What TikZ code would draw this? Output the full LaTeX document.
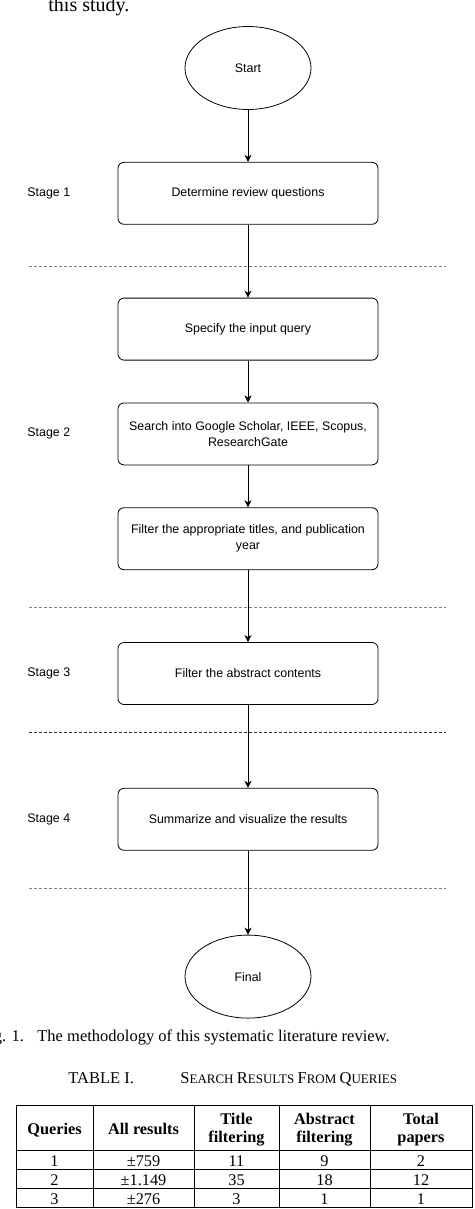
\documentclass[tikz,border=0pt]{standalone}
\usepackage{fontspec}
\setmainfont{Liberation Serif}
\setsansfont{Liberation Sans}
\colorlet{colorSep}{black!50}
\colorlet{colorSepDark}{black!85}
\usetikzlibrary{arrows.meta, positioning, shapes.geometric}
\tikzset{
  flowfont/.style={font=\sffamily\fontsize{12.4}{16}\selectfont},
  terminal/.style={draw, ellipse, flowfont, minimum width=126pt, minimum height=83pt},
  stagebox/.style={draw, rounded corners=6pt, flowfont, align=center, minimum width=260pt, minimum height=62pt},
  stagelabel/.style={flowfont, inner sep=0pt},
  sep/.style={dash pattern=on 3pt off 2pt, line width=0.7pt},
  tabcell/.style={font=\fontsize{16.3}{18}\selectfont, inner sep=0pt, text height=11pt, text depth=0pt},
  tabhead/.style={font=\bfseries\fontsize{16.3}{18}\selectfont, inner sep=0pt, align=center},
}

\begin{document}
\begin{tikzpicture}[>={Stealth[length=7pt, width=7pt, inset=2pt]}, thick, x=1pt, y=-1pt, node distance=42pt]
\useasboundingbox (0,0) rectangle (474,1209);
% text above the figure
\node[anchor=base west, inner sep=0pt, font=\fontsize{20}{24}\selectfont] (body) at (48,11.5) {this study.};
% flow chart
\node[terminal] (start) at (248,68) {Start};
\node[stagebox, below=52pt of start] (q1) {Determine review questions};
\node[stagebox, below=73pt of q1] (q2) {Specify the input query};
\node[stagebox, below=42pt of q2] (q3) {Search into Google Scholar, IEEE, Scopus,\\ResearchGate};
\node[stagebox, below=42pt of q3] (q4) {Filter the appropriate titles, and publication\\year};
\node[stagebox, below=72pt of q4] (q5) {Filter the abstract contents};
\node[stagebox, below=83pt of q5] (q6) {Summarize and visualize the results};
\node[terminal, below=84pt of q6] (final) {Final};
\node[stagelabel, left=47pt of q1] (s1) {Stage 1};
\node[stagelabel, left=47pt of q3] (s2) {Stage 2};
\node[stagelabel, left=47pt of q5] (s3) {Stage 3};
\node[stagelabel, left=47pt of q6] (s4) {Stage 4};
\draw[sep, colorSep] (29,266) -- (446,266);
\draw[sep, colorSep] (29,607) -- (446,607);
\draw[sep, colorSepDark] (29,732) -- (446,732);
\draw[sep, colorSep] (29,888) -- (446,888);
\draw [->] (start) -- (q1);
\draw [->] (q1) -- (q2);
\draw [->] (q2) -- (q3);
\draw [->] (q3) -- (q4);
\draw [->] (q4) -- (q5);
\draw [->] (q5) -- (q6);
\draw [->] (q6) -- (final);
% caption and table
\node[anchor=base east, inner sep=0pt, font=\fontsize{16.5}{20}\selectfont] (fignum) at (24.5,1041) {Fig. 1.};
\node[anchor=base west, inner sep=0pt, font=\fontsize{16.5}{20}\selectfont] (caption) at (37,1041) {The methodology of this systematic literature review.};
\node[anchor=base west, inner sep=0pt, font=\fontsize{16.5}{20}\selectfont] (tabnum) at (68,1083) {TABLE I.};
\node[anchor=base west, inner sep=0pt, font=\fontsize{13}{16}\selectfont] (tabtitle) at (180,1083) {{\fontsize{16.5}{20}\selectfont S}EARCH {\fontsize{16.5}{20}\selectfont R}ESULTS {\fontsize{16.5}{20}\selectfont F}ROM {\fontsize{16.5}{20}\selectfont Q}UERIES};
\draw[line width=0.8pt] (16,1105) rectangle (472,1207.5);
\draw[line width=0.8pt] (16,1150) -- (472,1150) (16,1169) -- (472,1169) (16,1188) -- (472,1188);
\draw[line width=0.8pt] (93,1105) -- (93,1207.5) (194,1105) -- (194,1207.5) (279,1105) -- (279,1207.5) (370,1105) -- (370,1207.5);
\node[tabhead, anchor=base] (h1) at (54.5,1134) {Queries};
\node[tabhead, anchor=base] (h2) at (143.5,1134) {All results};
\node[tabhead] (h3) at (236.5,1129.5) {Title\\filtering};
\node[tabhead] (h4) at (324.5,1129.5) {Abstract\\filtering};
\node[tabhead] (h5) at (421,1129.5) {Total\\papers};
\foreach \y/\a/\b/\c/\d/\e [count=\r] in {1160.5/1/±759/11/9/2, 1179.5/2/±1.149/35/18/12, 1199/3/±276/3/1/1} {
  \node[tabcell] (r\r a) at (54.5,\y) {\a};
  \node[tabcell] (r\r b) at (143.5,\y) {\b};
  \node[tabcell] (r\r c) at (236.5,\y) {\c};
  \node[tabcell] (r\r d) at (324.5,\y) {\d};
  \node[tabcell] (r\r e) at (421,\y) {\e};
}
\end{tikzpicture}
\end{document}
